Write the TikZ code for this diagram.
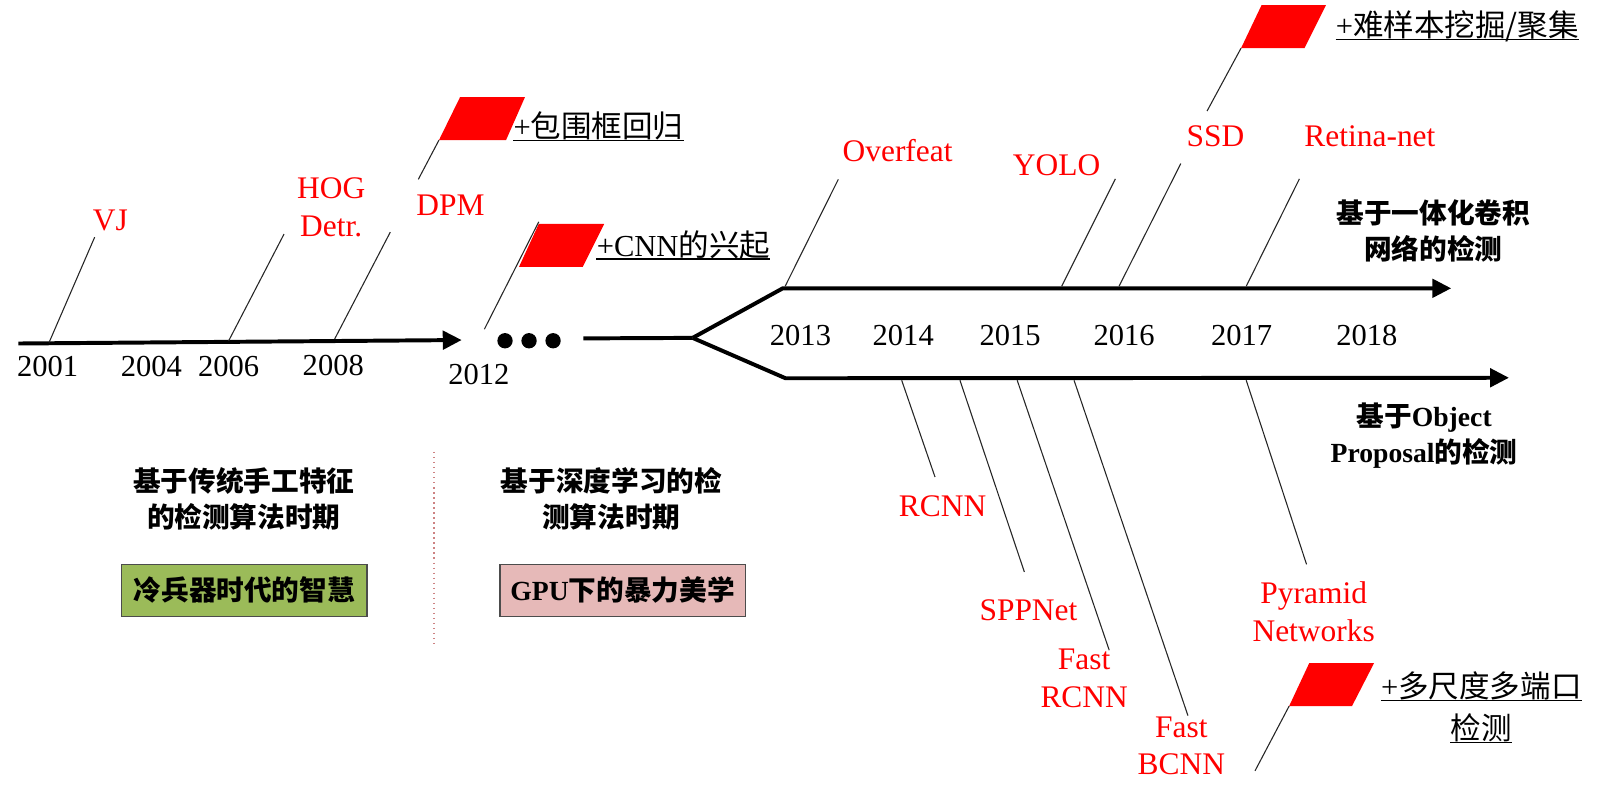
\documentclass[tikz,border=0pt]{standalone}
\usepackage{fontspec}
\setmainfont{Liberation Serif}
\newfontfamily\cjk{Noto Sans CJK SC}
\usetikzlibrary{arrows.meta}
\definecolor{sepcol}{RGB}{205,130,130}
\definecolor{boxgreen}{RGB}{155,187,89}
\definecolor{boxpink}{RGB}{230,185,184}
\begin{document}
\begin{tikzpicture}[x=0.02cm,y=-0.02cm,
  axisline/.style={line width=2.2pt,draw=black},
  axisarrow/.style={axisline,-{Triangle[length=0.37cm,width=0.36cm]}},
  tick/.style={line width=0.6pt,draw=black!85},
  year/.style={inner sep=0pt,font=\fontsize{17}{20}\selectfont},
  redlab/.style={inner sep=0pt,text=red,align=center,font=\fontsize{17.5}{21}\selectfont},
  era/.style={inner sep=0pt,align=center,font=\fontsize{15.4}{20}\selectfont\bfseries},
  erazh/.style={era,font=\fontsize{15.4}{20}\selectfont\bfseries\cjk},
  ulab/.style={inner sep=0pt,anchor=base,font=\fontsize{17}{20}\selectfont},
  uline/.style={line width=0.8pt,draw=black},
  flagshape/.style={fill=red,draw=none},
  periodbox/.style={draw=black!70,line width=0.8pt,minimum width=4.8cm,minimum height=1.02cm,inner sep=0pt,font=\fontsize{15.4}{20}\selectfont\bfseries},
  sepline/.style={dotted,line width=0.8pt,draw=sepcol},
  dot/.style={circle,fill=black,inner sep=0pt,minimum size=0.3cm}
]
\useasboundingbox (0,0) rectangle (1568,782);

% flags
\fill[flagshape] (450,95) -- (513.5,95) -- (495,137) -- (429.4,137) -- cycle;
\fill[flagshape] (527,219) -- (591,219) -- (570,261) -- (507.7,261) -- cycle;
\fill[flagshape] (1234,5) -- (1297,5) -- (1276,47) -- (1214,47) -- cycle;
\fill[flagshape] (1280.6,648.7) -- (1344,648.7) -- (1322.5,690.6) -- (1261,690.6) -- cycle;
\draw[tick] (429.4,137) coordinate (p1t) -- (409.2,175.4) coordinate (p1b);
\draw[tick] (527,217) coordinate (p2t) -- (473.8,322) coordinate (p2b);
\draw[tick] (1214,47) coordinate (p3t) -- (1180.7,108.6) coordinate (p3b);
\draw[tick] (1261,690.6) coordinate (p4t) -- (1227.6,754) coordinate (p4b);

% main axes
\coordinate (a0) at (18,336);
\coordinate (a1) at (451.6,332.6);
\draw[axisarrow] (a0) -- (a1);
\node[dot] (d1) at (494,333.3) {};
\node[dot] (d2) at (517.5,333.3) {};
\node[dot] (d3) at (541,333.3) {};
\coordinate (m0) at (570.6,331);
\coordinate (split) at (677.5,330.5);
\coordinate (ub) at (765.7,282);
\coordinate (ue) at (1419.5,282);
\coordinate (lb) at (768.4,370);
\coordinate (le) at (1476,369.5);
\draw[axisline] (m0) -- (split);
\draw[axisarrow,line join=miter] (split) -- (ub) -- (ue);
\draw[axisarrow,line join=miter] (split) -- (lb) -- (le);

% tick lines
\draw[tick] (48,335) coordinate (vjb) -- (92.6,232) coordinate (vjt);
\draw[tick] (223.6,333.5) coordinate (hogb) -- (277.8,229) coordinate (hogt);
\draw[tick] (327.4,331.5) coordinate (dpmb) -- (381.8,227) coordinate (dpmt);
\draw[tick] (768,280) coordinate (ofb) -- (820,175.4) coordinate (oft);
\draw[tick] (1038.5,280) coordinate (yob) -- (1091,175) coordinate (yot);
\draw[tick] (1094.6,280) coordinate (ssb) -- (1155,160) coordinate (sst);
\draw[tick] (1219,280) coordinate (reb) -- (1271,175) coordinate (ret);
\draw[tick] (882,372) coordinate (rct) -- (914.6,466.6) coordinate (rcb);
\draw[tick] (939,372) coordinate (spt) -- (1002,559.5) coordinate (spb);
\draw[tick] (995,372) coordinate (frt) -- (1085,636) coordinate (frb);
\draw[tick] (1050.6,372) coordinate (fbt) -- (1162,700) coordinate (fbb);
\draw[tick] (1219,372) coordinate (pyt) -- (1278,552) coordinate (pyb);

% years
\node[year] (y2001) at (46.5,358.7) {2001};
\node[year] (y2004) at (148,358.7) {2004};
\node[year] (y2006) at (223.6,358.7) {2006};
\node[year] (y2008) at (326,357.5) {2008};
\node[year] (y2012) at (468.5,366) {2012};
\node[year] (y2013) at (783,328) {2013};
\node[year] (y2014) at (883.5,328) {2014};
\node[year] (y2015) at (988,328) {2015};
\node[year] (y2016) at (1099.6,328) {2016};
\node[year] (y2017) at (1214.5,328) {2017};
\node[year] (y2018) at (1337,328) {2018};

% red labels
\node[redlab] (vj) at (108,216) {VJ};
\node[redlab] (hog) at (324,203) {HOG\\Detr.};
\node[redlab] (dpm) at (440.6,200.6) {DPM};
\node[redlab] (overfeat) at (878,147.5) {Overfeat};
\node[redlab] (yolo) at (1033.5,162) {YOLO};
\node[redlab] (ssd) at (1189,133) {SSD};
\node[redlab] (retina) at (1340,133) {Retina-net};
\node[redlab] (rcnn) at (922,495) {RCNN};
\node[redlab] (spp) at (1006,597) {SPPNet};
\node[redlab] (frcnn) at (1060.5,663.5) {Fast\\RCNN};
\node[redlab] (fbcnn) at (1155.5,729.5) {Fast\\BCNN};
\node[redlab] (pyr) at (1285,598.5) {Pyramid\\Networks};

% era labels
\node[erazh] (era1) at (238.5,487.5) {基于传统手工特征\\的检测算法时期};
\node[erazh] (era2) at (598,487.5) {基于深度学习的检\\测算法时期};
\node[erazh] (one) at (1402,226) {基于一体化卷积\\网络的检测};
\node[era] (prop) at (1393,426) {{\cjk 基于}Object\\Proposal{\cjk 的检测}};

% boxes
\node[periodbox,fill=boxgreen] (box1) at (239,577.5) {\cjk 冷兵器时代的智慧};
\node[periodbox,fill=boxpink] (box2) at (609,577.5) {GPU{\cjk 下的暴力美学}};
\draw[sepline] (424.6,442) coordinate (st) -- (424.6,632) coordinate (sb);

% underlined labels
\node[ulab] (ul1) at (585.5,134.5) {+{\cjk 包围框回归}};
\node[ulab] (ul2) at (668.5,250.5) {+CNN{\cjk 的兴起}};
\node[ulab] (ul3) at (1425.5,35.5) {+{\cjk 难样本挖掘/聚集}};
\node[ulab] (ul4) at (1449,682) {+{\cjk 多尺度多端口}};
\node[ulab] (ul5) at (1449,723) {\cjk 检测};
\foreach \n in {ul1,ul2,ul3,ul4,ul5}{
  \draw[uline] ([yshift=-0.06cm]\n.base west) -- ([yshift=-0.06cm]\n.base east);
}
\end{tikzpicture}
\end{document}
